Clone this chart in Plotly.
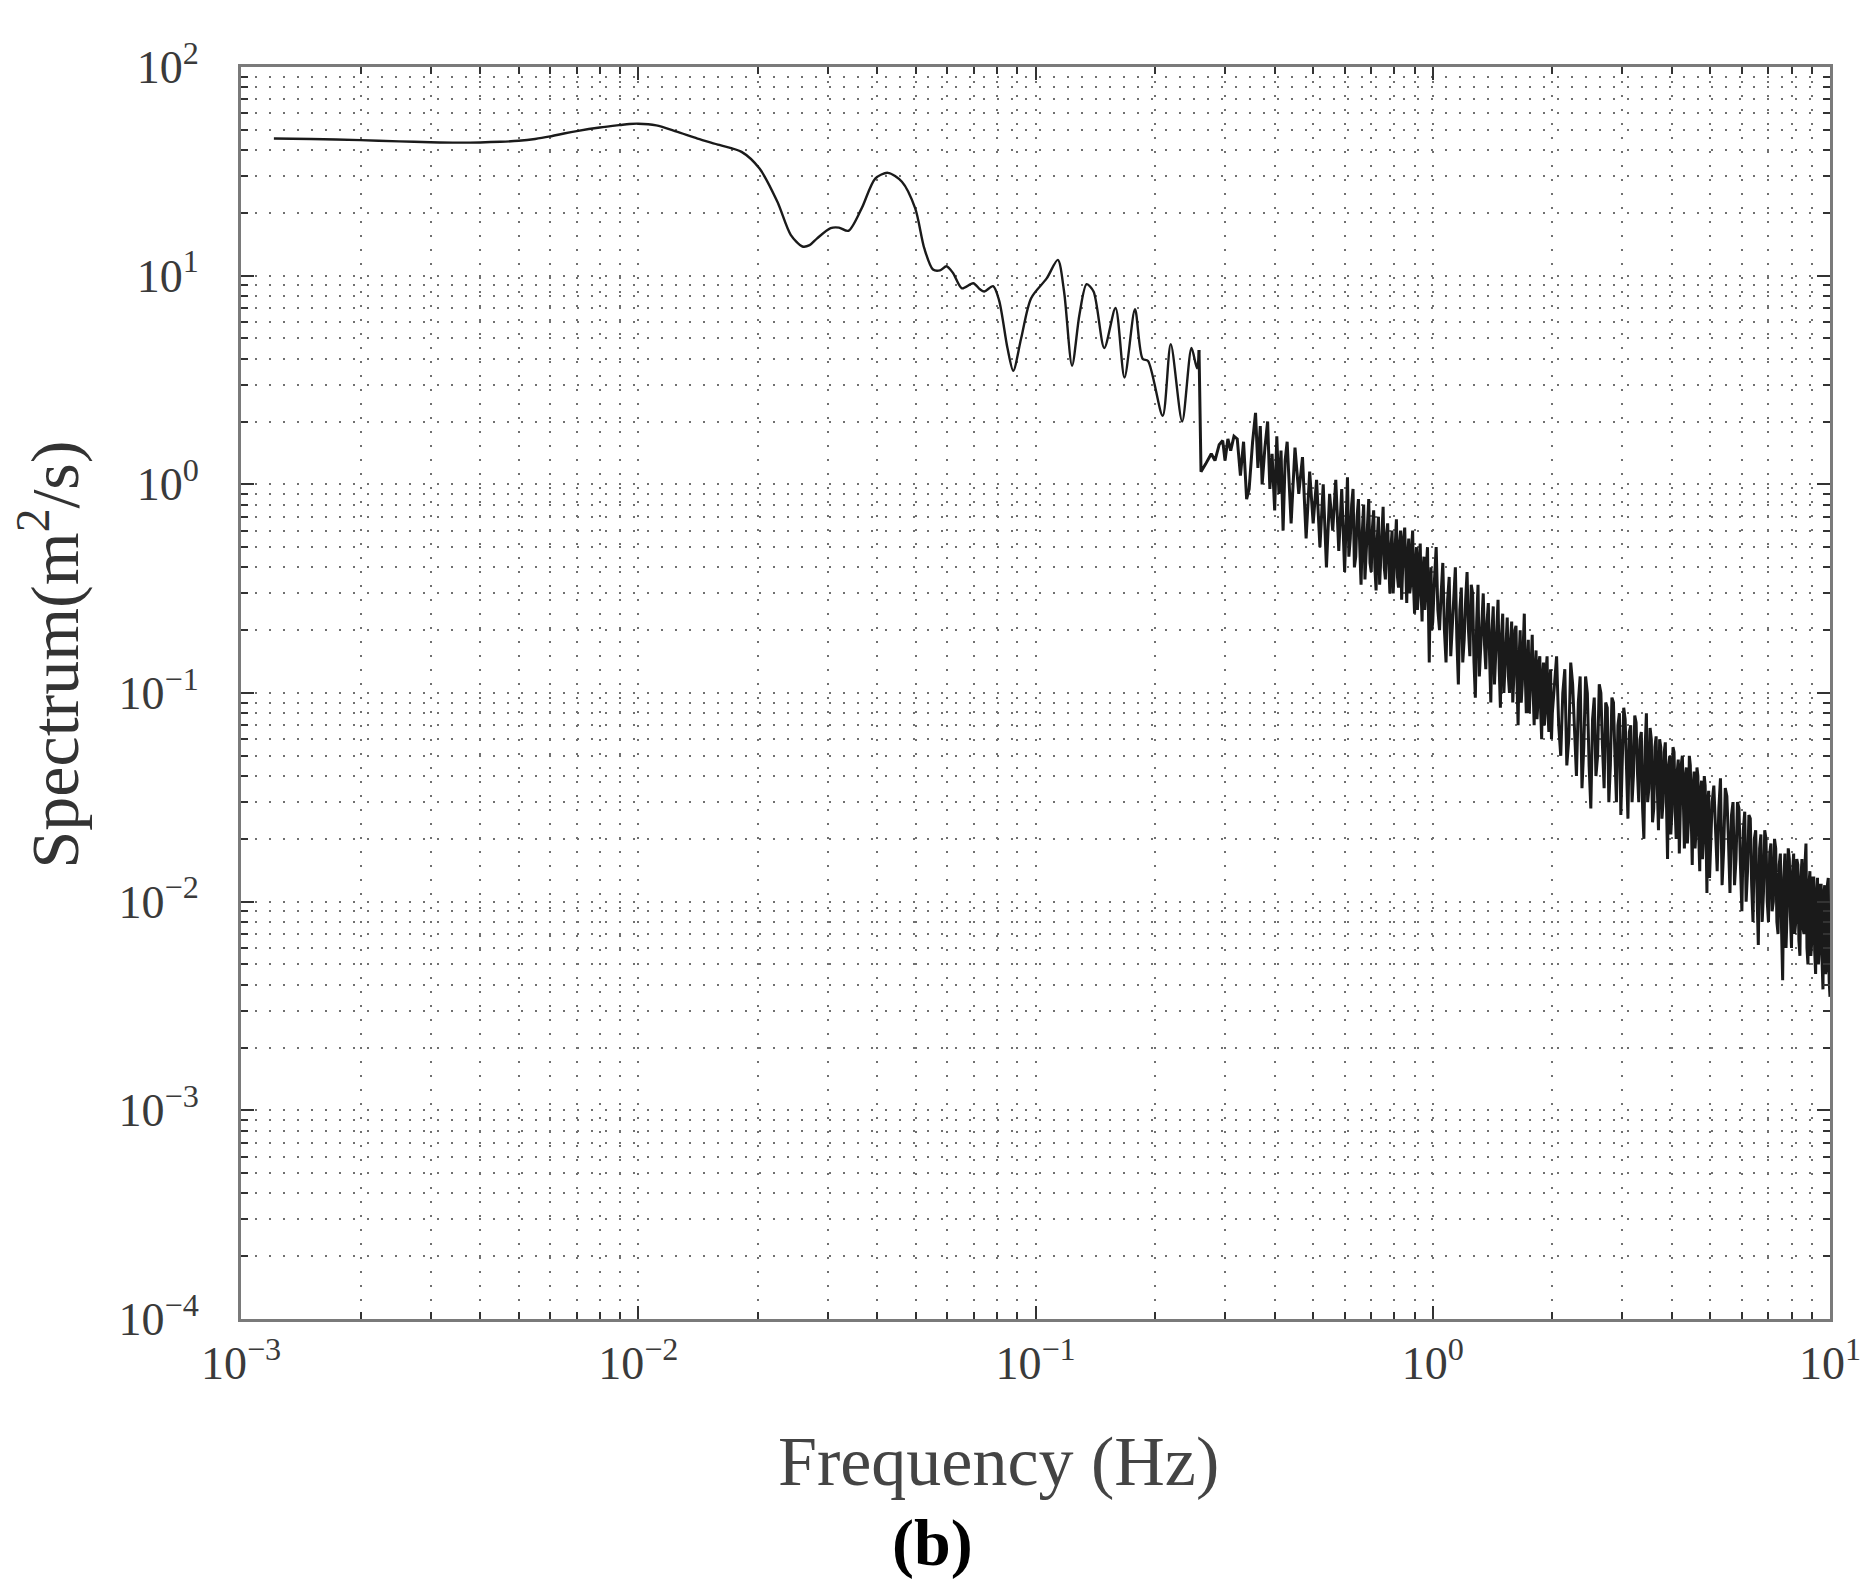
import plotly.graph_objs as go

# Smooth low-frequency part of the spectrum
freq_low = [0.00121, 0.0015, 0.002, 0.0025, 0.003, 0.0035, 0.004, 0.0045, 0.005,
            0.0055, 0.006, 0.0065, 0.007, 0.008, 0.009, 0.0095, 0.01, 0.0111,
            0.0125, 0.0141, 0.016, 0.0182, 0.0202, 0.0224, 0.0242, 0.0259, 0.027,
            0.0282, 0.0305, 0.032, 0.0338, 0.0365, 0.0395, 0.0425, 0.0461, 0.0498,
            0.0525, 0.0552, 0.0575, 0.0597, 0.062, 0.0653, 0.0697, 0.0725, 0.0743,
            0.0782, 0.081, 0.085, 0.0879, 0.092, 0.0975, 0.1067, 0.1138, 0.118,
            0.1236, 0.129, 0.1345, 0.14, 0.149, 0.159, 0.1675, 0.178, 0.186, 0.192,
            0.209, 0.219, 0.234, 0.247, 0.255, 0.258]
spec_low = [45.4, 45.2, 44.6, 44.0, 43.6, 43.4, 43.5, 43.8, 44.3,
            45.2, 46.5, 48.0, 49.3, 51.3, 52.7, 53.3, 53.5, 52.5,
            49.0, 45.4, 42.3, 39.2, 32.6, 22.6, 15.7, 13.8, 14.0,
            15.1, 16.9, 17.0, 16.4, 21.0, 29.2, 31.1, 28.2, 21.0,
            13.5, 10.7, 10.6, 11.1, 10.3, 8.7, 9.2, 8.6, 8.4,
            8.9, 7.6, 4.5, 3.5, 5.0, 7.8, 9.7, 11.9, 8.4,
            3.7, 6.5, 9.1, 8.4, 4.5, 7.0, 3.25, 6.9, 4.0, 3.9,
            2.13, 4.7, 2.0, 4.5, 3.6, 4.4]

# Transition after the sharp drop near 0.26 Hz
freq_mid = [0.261, 0.268, 0.277, 0.283, 0.290, 0.296, 0.300, 0.305, 0.310, 0.316,
            0.322, 0.328, 0.334, 0.340, 0.345, 0.352, 0.358, 0.363, 0.368, 0.372,
            0.378, 0.384, 0.389, 0.394, 0.400, 0.405, 0.410, 0.415, 0.420, 0.425]
spec_mid = [1.15, 1.25, 1.4, 1.3, 1.55, 1.62, 1.3, 1.65, 1.45, 1.7,
            1.65, 1.1, 1.6, 0.85, 0.95, 1.6, 2.2, 1.2, 1.9, 1.0,
            1.5, 2.0, 0.95, 1.4, 0.75, 1.7, 0.9, 1.45, 0.6, 1.3]

# Noisy high-frequency part, 0.43 - 1 Hz
freq_a = [0.43, 0.44, 0.45, 0.46, 0.47, 0.48, 0.49, 0.50, 0.51, 0.52, 0.53, 0.54,
          0.55, 0.56, 0.57, 0.58, 0.59, 0.60, 0.61, 0.62, 0.63, 0.64, 0.65, 0.66,
          0.67, 0.68, 0.69, 0.70, 0.71, 0.72, 0.73, 0.74, 0.75, 0.76, 0.77, 0.78,
          0.79, 0.80, 0.81, 0.82, 0.83, 0.84, 0.85, 0.86, 0.87, 0.88, 0.89, 0.90,
          0.91, 0.92, 0.93, 0.94, 0.95, 0.96, 0.97, 0.98, 0.99, 1.00]
spec_a = [1.6, 0.65, 1.5, 0.9, 1.35, 0.55, 1.15, 0.65, 1.05, 0.5, 1.0, 0.4,
          0.9, 0.6, 1.05, 0.48, 0.95, 0.38, 1.08, 0.55, 0.95, 0.45, 0.85, 0.33,
          0.8, 0.5, 0.85, 0.38, 0.75, 0.31, 0.7, 0.45, 0.78, 0.35, 0.65, 0.3,
          0.6, 0.38, 0.68, 0.32, 0.6, 0.4, 0.62, 0.27, 0.55, 0.33, 0.6, 0.24,
          0.5, 0.3, 0.52, 0.22, 0.45, 0.3, 0.5, 0.14, 0.4, 0.22]
freq_a2 = [0.605, 0.615, 0.625, 0.635, 0.645, 0.655, 0.665, 0.675, 0.685, 0.695,
           0.705, 0.715, 0.725, 0.735, 0.745, 0.755, 0.765, 0.775, 0.785, 0.795,
           0.805, 0.815, 0.825, 0.835, 0.845, 0.855, 0.865, 0.875, 0.885, 0.895,
           0.905, 0.915, 0.925, 0.935, 0.945, 0.955, 0.965, 0.975, 0.985, 0.995]
spec_a2 = [0.7, 0.45, 0.8, 0.4, 0.7, 0.5, 0.6, 0.35, 0.72, 0.42,
           0.62, 0.4, 0.55, 0.33, 0.68, 0.4, 0.58, 0.42, 0.5, 0.3,
           0.55, 0.36, 0.52, 0.28, 0.56, 0.35, 0.45, 0.3, 0.5, 0.32,
           0.42, 0.25, 0.45, 0.3, 0.38, 0.25, 0.42, 0.26, 0.3, 0.2]

# 1 - 2 Hz
freq_b = [1.02, 1.04, 1.06, 1.08, 1.10, 1.12, 1.14, 1.16, 1.18, 1.20, 1.22, 1.24,
          1.26, 1.28, 1.30, 1.32, 1.34, 1.36, 1.38, 1.40, 1.42, 1.44, 1.46, 1.48,
          1.50, 1.52, 1.54, 1.56, 1.58, 1.60, 1.62, 1.64, 1.66, 1.68, 1.70, 1.72,
          1.74, 1.76, 1.78, 1.80, 1.82, 1.84, 1.86, 1.88, 1.90, 1.92, 1.94, 1.96,
          1.98, 2.00]
spec_b = [0.5, 0.2, 0.42, 0.14, 0.36, 0.22, 0.4, 0.11, 0.32, 0.18, 0.38, 0.15,
          0.3, 0.095, 0.33, 0.16, 0.3, 0.13, 0.27, 0.09, 0.26, 0.15, 0.28, 0.085,
          0.24, 0.13, 0.23, 0.1, 0.22, 0.12, 0.21, 0.07, 0.2, 0.11, 0.24, 0.08,
          0.18, 0.11, 0.19, 0.07, 0.16, 0.09, 0.15, 0.06, 0.14, 0.085, 0.15, 0.065,
          0.13, 0.08]
freq_b2 = [1.01, 1.03, 1.05, 1.07, 1.09, 1.11, 1.13, 1.15, 1.17, 1.19, 1.21, 1.23,
           1.25, 1.27, 1.29, 1.31, 1.33, 1.35, 1.37, 1.39, 1.41, 1.43, 1.45, 1.47,
           1.49, 1.51, 1.53, 1.55, 1.57, 1.59, 1.61, 1.63, 1.65, 1.67, 1.69, 1.71,
           1.73, 1.75, 1.77, 1.79, 1.81, 1.83, 1.85, 1.87, 1.89, 1.91, 1.93, 1.95,
           1.97, 1.99]
spec_b2 = [0.35, 0.25, 0.3, 0.2, 0.28, 0.15, 0.3, 0.18, 0.25, 0.14, 0.28, 0.2,
           0.33, 0.14, 0.22, 0.12, 0.25, 0.17, 0.22, 0.15, 0.2, 0.11, 0.23, 0.13,
           0.19, 0.1, 0.2, 0.12, 0.18, 0.09, 0.2, 0.11, 0.15, 0.09, 0.17, 0.12,
           0.14, 0.08, 0.16, 0.1, 0.13, 0.075, 0.14, 0.08, 0.12, 0.07, 0.13, 0.08,
           0.11, 0.06]

# 2 - 5 Hz
freq_c = [2.05, 2.10, 2.15, 2.20, 2.25, 2.30, 2.35, 2.40, 2.45, 2.50, 2.55, 2.60,
          2.65, 2.70, 2.75, 2.80, 2.85, 2.90, 2.95, 3.00, 3.05, 3.10, 3.15, 3.20,
          3.25, 3.30, 3.35, 3.40, 3.45, 3.50, 3.55, 3.60, 3.65, 3.70, 3.75, 3.80,
          3.85, 3.90, 3.95, 4.00, 4.05, 4.10, 4.15, 4.20, 4.25, 4.30, 4.35, 4.40,
          4.45, 4.50, 4.55, 4.60, 4.65, 4.70, 4.75, 4.80, 4.85, 4.90, 4.95, 5.00]
spec_c = [0.15, 0.05, 0.13, 0.06, 0.11, 0.04, 0.12, 0.055, 0.1, 0.028, 0.095, 0.05,
          0.1, 0.035, 0.085, 0.045, 0.09, 0.03, 0.08, 0.042, 0.075, 0.025, 0.07, 0.04,
          0.072, 0.03, 0.065, 0.02, 0.08, 0.035, 0.06, 0.028, 0.062, 0.022, 0.055, 0.03,
          0.058, 0.016, 0.05, 0.027, 0.052, 0.02, 0.048, 0.025, 0.05, 0.018, 0.044, 0.024,
          0.045, 0.015, 0.042, 0.022, 0.04, 0.014, 0.038, 0.02, 0.036, 0.011, 0.034, 0.019]
freq_c2 = [2.075, 2.125, 2.175, 2.225, 2.275, 2.325, 2.375, 2.425, 2.475, 2.525,
           2.575, 2.625, 2.675, 2.725, 2.775, 2.825, 2.875, 2.925, 2.975, 3.025,
           3.075, 3.125, 3.175, 3.225, 3.275, 3.325, 3.375, 3.425, 3.475, 3.525,
           3.575, 3.625, 3.675, 3.725, 3.775, 3.825, 3.875, 3.925, 3.975, 4.025,
           4.075, 4.125, 4.175, 4.225, 4.275, 4.325, 4.375, 4.425, 4.475, 4.525,
           4.575, 4.625, 4.675, 4.725, 4.775, 4.825, 4.875, 4.925, 4.975]
spec_c2 = [0.07, 0.1, 0.045, 0.14, 0.06, 0.09, 0.035, 0.12, 0.045, 0.075,
           0.04, 0.11, 0.055, 0.09, 0.03, 0.095, 0.05, 0.07, 0.026, 0.085,
           0.04, 0.065, 0.03, 0.078, 0.042, 0.06, 0.028, 0.055, 0.03, 0.068,
           0.024, 0.055, 0.035, 0.06, 0.025, 0.052, 0.03, 0.045, 0.021, 0.055,
           0.028, 0.042, 0.017, 0.046, 0.026, 0.04, 0.019, 0.05, 0.025, 0.036,
           0.018, 0.044, 0.02, 0.034, 0.016, 0.04, 0.021, 0.03, 0.013]

# 5 - 10 Hz
freq_d = [5.1, 5.2, 5.3, 5.4, 5.5, 5.6, 5.7, 5.8, 5.9, 6.0, 6.1, 6.2, 6.3, 6.4,
          6.5, 6.6, 6.7, 6.8, 6.9, 7.0, 7.1, 7.2, 7.3, 7.4, 7.5, 7.6, 7.7, 7.8,
          7.9, 8.0, 8.1, 8.2, 8.3, 8.4, 8.5, 8.6, 8.7, 8.8, 8.9, 9.0, 9.1, 9.2,
          9.3, 9.4, 9.5, 9.6, 9.7, 9.8, 9.9, 10.0]
spec_d = [0.036, 0.014, 0.039, 0.018, 0.032, 0.011, 0.03, 0.016, 0.028, 0.009,
          0.027, 0.014, 0.025, 0.008, 0.022, 0.0062, 0.021, 0.011, 0.02, 0.008,
          0.019, 0.01, 0.018, 0.007, 0.017, 0.0042, 0.017, 0.009, 0.016, 0.006,
          0.017, 0.008, 0.015, 0.0055, 0.016, 0.007, 0.019, 0.005, 0.014, 0.0065,
          0.013, 0.0045, 0.013, 0.006, 0.012, 0.0038, 0.012, 0.0048, 0.013, 0.0035]
freq_d2 = [5.05, 5.15, 5.25, 5.35, 5.45, 5.55, 5.65, 5.75, 5.85, 5.95,
           6.05, 6.15, 6.25, 6.35, 6.45, 6.55, 6.65, 6.75, 6.85, 6.95,
           7.05, 7.15, 7.25, 7.35, 7.45, 7.55, 7.65, 7.75, 7.85, 7.95,
           8.05, 8.15, 8.25, 8.35, 8.45, 8.55, 8.65, 8.75, 8.85, 8.95,
           9.05, 9.15, 9.25, 9.35, 9.45, 9.55, 9.65, 9.75, 9.85, 9.95]
spec_d2 = [0.03, 0.02, 0.028, 0.012, 0.035, 0.02, 0.026, 0.012, 0.03, 0.015,
           0.022, 0.01, 0.026, 0.012, 0.02, 0.011, 0.018, 0.008, 0.022, 0.01,
           0.017, 0.009, 0.02, 0.008, 0.015, 0.0075, 0.013, 0.006, 0.018, 0.0085,
           0.014, 0.007, 0.016, 0.0065, 0.013, 0.0075, 0.015, 0.006, 0.012, 0.0055,
           0.013, 0.0058, 0.011, 0.005, 0.012, 0.0052, 0.011, 0.0045, 0.012, 0.0042]

# Axis tick labels
x_tickvals = [1e-3, 1e-2, 1e-1, 1e0, 1e1]
x_ticktext = ["10<sup>\u22123</sup>", "10<sup>\u22122</sup>", "10<sup>\u22121</sup>",
              "10<sup>0</sup>", "10<sup>1</sup>"]
y_tickvals = [1e-4, 1e-3, 1e-2, 1e-1, 1e0, 1e1, 1e2]
y_ticktext = ["10<sup>\u22124</sup>", "10<sup>\u22123</sup>", "10<sup>\u22122</sup>",
              "10<sup>\u22121</sup>", "10<sup>0</sup>", "10<sup>1</sup>", "10<sup>2</sup>"]

SERIF = "Liberation Serif, Times New Roman, serif"
LINE = "#1a1a1a"
GRID = "#707070"
DOTS = "2px,12px"


def minor_ticks(lo, hi):
    return [m * 10 ** e for e in range(lo, hi) for m in range(2, 10)]


# merge the noisy segments in frequency order
noisy = sorted(zip(freq_mid + freq_a + freq_a2 + freq_b + freq_b2 + freq_c + freq_c2 + freq_d + freq_d2,
                   spec_mid + spec_a + spec_a2 + spec_b + spec_b2 + spec_c + spec_c2 + spec_d + spec_d2))
freq_noisy = [freq_low[-1]] + [p[0] for p in noisy]
spec_noisy = [spec_low[-1]] + [p[1] for p in noisy]

fig = go.Figure()

# smooth part drawn as spline, noisy part as straight segments
fig.add_trace(go.Scatter(x=freq_low, y=spec_low, mode="lines",
                         line=dict(color=LINE, width=2.4, shape="spline", smoothing=0.8),
                         hoverinfo="skip"))
fig.add_trace(go.Scatter(x=freq_noisy, y=spec_noisy, mode="lines",
                         line=dict(color=LINE, width=3.0),
                         hoverinfo="skip"))

axis_common = dict(
    type="log",
    ticks="inside", ticklen=13, tickwidth=1.5, tickcolor="#333",
    showline=True, linecolor="#7a7a7a", linewidth=3, mirror="allticks",
    showgrid=True, gridcolor=GRID, gridwidth=1.5, griddash=DOTS,
    zeroline=False,
    tickfont=dict(family=SERIF, size=46, color="#3a3a3a"),
)

fig.update_layout(
    width=1872, height=1591,
    margin=dict(l=233, r=50, t=59, b=280),
    plot_bgcolor="white", paper_bgcolor="white",
    showlegend=False,
    xaxis=dict(range=[-3, 1], tickmode="array", tickvals=x_tickvals,
               ticktext=x_ticktext, ticklabelstandoff=2,
               minor=dict(tickvals=minor_ticks(-3, 1), ticks="inside", ticklen=7,
                          tickcolor="#333", showgrid=True, gridcolor=GRID,
                          gridwidth=1.5, griddash=DOTS),
               **axis_common),
    yaxis=dict(range=[-4, 2], tickmode="array", tickvals=y_tickvals,
               ticktext=y_ticktext, ticklabelstandoff=30,
               minor=dict(tickvals=minor_ticks(-4, 2), ticks="inside", ticklen=7,
                          tickcolor="#333", showgrid=True, gridcolor=GRID,
                          gridwidth=1.5, griddash=DOTS),
               **axis_common),
)

# titles and panel label
fig.add_annotation(text="Frequency (Hz)", xref="paper", yref="paper",
                   x=0.477, y=-0.114, xanchor="center", yanchor="middle",
                   showarrow=False, font=dict(family=SERIF, size=70, color="#444"))
fig.add_annotation(text="Spectrum(m<sup>2</sup>/s)", xref="paper", yref="paper",
                   x=-0.12, y=0.531, xanchor="center", yanchor="middle",
                   textangle=-90, showarrow=False,
                   font=dict(family=SERIF, size=68, color="#333"))
fig.add_annotation(text="<b>(b)</b>", xref="paper", yref="paper",
                   x=0.4349, y=-0.179, xanchor="center", yanchor="middle",
                   showarrow=False, font=dict(family=SERIF, size=66, color="#000"))

fig.write_html("out.html")
